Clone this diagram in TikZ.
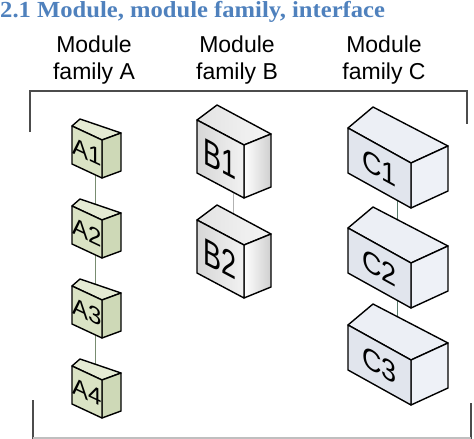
\documentclass[tikz,border=0pt]{standalone}
\usepackage{fontspec}
\setmainfont{Liberation Serif}
\setsansfont{Liberation Sans}

\definecolor{headblue}{RGB}{79,129,189}
\definecolor{afront}{RGB}{218,227,196}
\definecolor{atop}{RGB}{229,235,212}
\definecolor{aside}{RGB}{206,217,183}
\definecolor{cfront}{RGB}{225,229,237}
\definecolor{ctop}{RGB}{236,239,245}
\definecolor{cside}{RGB}{238,241,247}
\definecolor{alink}{RGB}{120,140,112}
\definecolor{clink}{RGB}{88,124,108}

\pgfdeclarelayer{bg}
\pgfsetlayers{bg,main}

% box size: width, drop of front edge, height, side depth (x,y), back corner (x,y)
\newcommand{\boxdims}[7]{\def\modW{#1}\def\modD{#2}\def\modH{#3}%
  \def\modDx{#4}\def\modDy{#5}\def\modEx{#6}\def\modEy{#7}}

% \modbox{name}{x}{y}{family}
\newcommand{\modbox}[4]{%
  \begin{scope}[shift={(#2,-#3)}]
    \path[#4 top] (0,0) -- (\modEx,\modEy) -- ({\modW+\modDx},{\modDy-\modD})
      -- (\modW,-\modD) -- cycle;
    \path[#4 side] (\modW,-\modD) -- ({\modW+\modDx},{\modDy-\modD})
      -- ({\modW+\modDx},{\modDy-\modD-\modH}) -- (\modW,{-\modD-\modH}) -- cycle;
    \path[#4 front] (0,0) -- (\modW,-\modD) -- (\modW,{-\modD-\modH})
      -- (0,-\modH) -- cycle;
    \coordinate (#1-c) at ({\modW/2},{-\modD/2-\modH/2});
    \coordinate (#1-link) at ({0.78*\modW},{-0.78*\modD-\modH/2});
  \end{scope}
  \node[#4 label] (#1) at (#1-c) {#1};
}

\tikzset{
  outline/.style={draw=black,line width=1.4pt,line join=round},
  A top/.style={outline,fill=atop},
  A side/.style={outline,fill=aside},
  A front/.style={outline,fill=afront},
  A label/.style={font=\sffamily\fontsize{24}{24}\selectfont,inner sep=0pt,
    yslant=-0.47,transform shape},
  B top/.style={outline,left color=gray!22,right color=gray!8},
  B side/.style={outline,left color=white,right color=gray!38},
  B front/.style={outline,left color=gray!32,right color=gray!10},
  B label/.style={font=\sffamily\fontsize{27}{27}\selectfont,inner sep=0pt,
    yslant=-0.53,yscale=1.4,transform shape},
  C top/.style={outline,fill=ctop},
  C side/.style={outline,fill=cside},
  C front/.style={outline,fill=cfront},
  C label/.style={font=\sffamily\fontsize{27}{27}\selectfont,inner sep=0pt,
    yslant=-0.55,yscale=1.1,transform shape},
  head/.style={font=\sffamily\fontsize{23}{27}\selectfont,align=center,inner sep=0pt},
  frame/.style={draw=black!70,line width=1.3pt}
}

\begin{document}
\begin{tikzpicture}[x=1pt,y=1pt]
\useasboundingbox (0,0) rectangle (474,-439);

\node[anchor=base west,inner sep=0pt,text=headblue,xscale=1.07,transform shape,
  font=\bfseries\fontsize{23}{23}\selectfont] (title) at (0,-17)
  {2.1 Module, module family, interface};

\node[head] (headA) at (94,-60)  {Module\\family A};
\node[head] (headB) at (237,-60) {Module\\family B};
\node[head] (headC) at (384,-60) {Module\\family C};

% frame
\draw[frame] (30,-132) |- (467,-91) -- (467,-124);
\draw[frame] (33,-400) -- (33,-439);
\draw[frame] (471,-403) -- (471,-439);
\draw[black!25,line width=1.5pt] (33,-438) -- (471,-438);

% family A
\boxdims{30}{14}{38}{19}{7}{8}{7}
\foreach \n/\y in {A1/126,A2/206,A3/286,A4/366}
  \modbox{\n}{72}{\y}{A};

% family B
\boxdims{47}{25}{53}{27}{11}{20}{15}
\foreach \n/\y in {B1/120,B2/220}
  \modbox{\n}{197}{\y}{B};

% family C
\boxdims{63}{35}{45}{37}{17}{25}{21}
\foreach \n/\y in {C1/128,C2/228,C3/325}
  \modbox{\n}{348}{\y}{C};

% interfaces
\begin{pgfonlayer}{bg}
  \begin{scope}[every edge/.style={draw,alink,line width=0.9pt}]
    \path (A1-link) edge (A2-link);
    \path (A2-link) edge (A3-link);
    \path (A3-link) edge (A4-link);
  \end{scope}
  \begin{scope}[every edge/.style={draw,gray!60,line width=0.9pt}]
    \path (B1-link) edge (B2-link);
  \end{scope}
  \begin{scope}[every edge/.style={draw,clink,line width=1.1pt}]
    \path (C1-link) edge (C2-link);
    \path (C2-link) edge (C3-link);
  \end{scope}
\end{pgfonlayer}

\end{tikzpicture}
\end{document}
